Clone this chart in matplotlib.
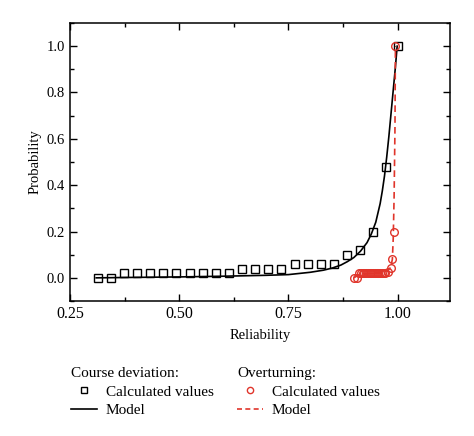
import matplotlib
matplotlib.use("Agg")
import matplotlib.pyplot as plt
from matplotlib.ticker import MultipleLocator
from matplotlib.lines import Line2D

plt.rcParams['font.family'] = ['Liberation Serif', 'DejaVu Serif']

# Course deviation: calculated values
course_x = [0.3135, 0.344, 0.374, 0.404, 0.4335, 0.464, 0.493, 0.524, 0.554, 0.584,
            0.615, 0.644, 0.674, 0.704, 0.734, 0.764, 0.794, 0.824, 0.854, 0.884,
            0.9135, 0.944, 0.973, 1.0]
course_y = [0.0, 0.0, 0.02, 0.02, 0.02, 0.02, 0.02, 0.02, 0.02, 0.02,
            0.02, 0.04, 0.04, 0.04, 0.04, 0.06, 0.06, 0.06, 0.06, 0.10,
            0.12, 0.20, 0.48, 1.0]

# Course deviation: model curve
course_model_x = [0.31, 0.40, 0.50, 0.60, 0.70, 0.75, 0.80, 0.83, 0.85, 0.87, 0.885,
                  0.90, 0.915, 0.93, 0.94, 0.95, 0.96, 0.965, 0.97, 0.975, 0.98,
                  0.985, 0.99, 0.995, 0.999]
course_model_y = [0.0, 0.002, 0.004, 0.007, 0.011, 0.014, 0.024, 0.033, 0.042, 0.055, 0.07,
                  0.088, 0.115, 0.152, 0.19, 0.24, 0.32, 0.375, 0.44, 0.52, 0.61,
                  0.71, 0.81, 0.91, 1.0]

# Overturning: calculated values
over_x = [0.900, 0.907, 0.912, 0.916, 0.920, 0.924, 0.928, 0.932, 0.936, 0.940,
          0.944, 0.948, 0.952, 0.956, 0.960, 0.964, 0.968, 0.972, 0.977, 0.984,
          0.988, 0.991, 0.995]
over_y = [0.0, 0.0, 0.02, 0.02, 0.02, 0.02, 0.02, 0.02, 0.02, 0.02,
          0.02, 0.02, 0.02, 0.02, 0.02, 0.02, 0.02, 0.02, 0.025, 0.042,
          0.082, 0.20, 1.0]

# Overturning: model curve
over_model_x = [0.900, 0.910, 0.930, 0.950, 0.970, 0.978, 0.984, 0.988, 0.990, 0.992, 0.994, 0.995]
over_model_y = [0.0, 0.012, 0.018, 0.021, 0.026, 0.032, 0.045, 0.08, 0.17, 0.35, 0.65, 1.0]

RED = '#e0352b'

fig = plt.figure(figsize=(4.74, 4.36), dpi=100)
ax = fig.add_axes([0.1477, 0.3096, 0.8017, 0.6377])

ax.plot(course_model_x, course_model_y, color='black', lw=1.2)
ax.plot(over_model_x, over_model_y, color=RED, lw=1.2, ls=(0, (4, 2.5)))
ax.plot(course_x, course_y, ls='none', marker='s', ms=5.5, mfc='none',
        mec='black', mew=1.0)
ax.plot(over_x, over_y, ls='none', marker='o', ms=5.5, mfc='none',
        mec=RED, mew=1.0)

ax.set_xlim(0.25, 1.12)
ax.set_ylim(-0.1, 1.1)
ax.xaxis.set_minor_locator(MultipleLocator(0.125))
ax.yaxis.set_major_locator(MultipleLocator(0.2))
ax.yaxis.set_minor_locator(MultipleLocator(0.1))
ax.set_xticks([0.25, 0.50, 0.75, 1.00])
ax.set_xticklabels(['0.25', '0.50', '0.75', '1.00'])
ax.tick_params(which='both', direction='in', top=True, right=True, labelsize=10.5)
ax.tick_params(axis='x', labelsize=11.5)
ax.tick_params(which='major', length=5, width=1)
ax.tick_params(which='minor', length=3, width=1)
for s in ax.spines.values():
    s.set_linewidth(1.1)

ax.set_xlabel('Reliability', fontsize=10.5, labelpad=5)
ax.set_ylabel('Probability', fontsize=10.5, labelpad=4)

# legends below the plot
h1 = [Line2D([], [], ls='none', marker='s', ms=4.5, mfc='none', mec='black', mew=1.0),
      Line2D([], [], color='black', lw=1.2)]
h2 = [Line2D([], [], ls='none', marker='o', ms=4.5, mfc='none', mec=RED, mew=1.0),
      Line2D([], [], color=RED, lw=1.2, ls=(0, (3, 2)))]
common = dict(loc='upper left', frameon=False, fontsize=11, title_fontsize=11,
              alignment='left', handlelength=1.7, handletextpad=0.55,
              labelspacing=0.3, borderpad=0.2)
fig.legend(h1, ['Calculated values', 'Model'], title='Course deviation:',
           bbox_to_anchor=(0.128, 0.182), **common)
fig.legend(h2, ['Calculated values', 'Model'], title='Overturning:',
           bbox_to_anchor=(0.478, 0.182), **common)

fig.savefig('out.png', dpi=100)
